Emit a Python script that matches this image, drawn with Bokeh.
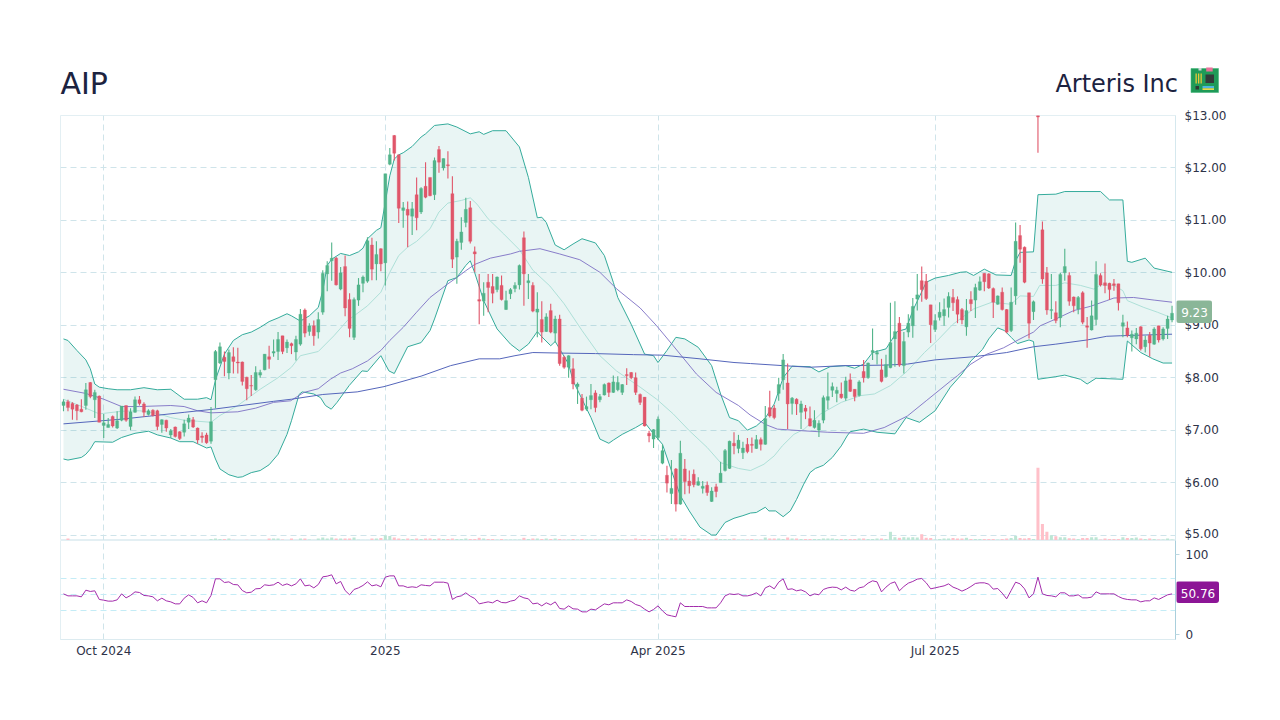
from bokeh.plotting import figure
from bokeh.layouts import column
from bokeh.models import Range1d, LinearAxis, FixedTicker, NumeralTickFormatter, Label, ColumnDataSource
from bokeh.core.properties import value
from bokeh.embed import file_html
from bokeh.resources import INLINE

symbol = "AIP"
company = "Arteris Inc"
tick_index = [9, 72, 133, 195]
tick_labels = ["Oct 2024", "2025", "Apr 2025", "Jul 2025"]

open_p = [7.47,7.54,7.51,7.48,7.40,7.47,7.91,7.58,7.65,7.09,
7.05,7.26,7.04,7.19,7.47,7.07,7.34,7.58,7.50,7.30,
7.38,7.37,7.11,7.19,6.91,7.06,6.97,6.96,7.15,7.20,
7.04,6.89,6.91,6.79,7.96,8.28,8.39,8.09,8.40,8.30,
8.30,8.01,7.85,7.77,8.05,8.15,8.40,8.47,8.50,8.80,
8.57,8.65,8.49,8.64,9.29,8.88,8.99,8.87,9.25,9.98,
10.23,10.28,9.69,10.12,9.49,8.77,9.48,9.80,9.84,10.53,
10.17,10.46,10.19,12.07,12.62,12.25,11.19,11.21,11.08,11.49,
11.16,11.65,11.82,11.49,12.35,12.00,12.06,11.51,10.30,10.58,
10.96,11.24,10.40,9.49,9.46,9.82,9.74,9.68,9.76,9.30,
9.60,9.70,9.77,10.67,9.81,9.76,9.25,9.11,8.88,9.28,
8.85,9.12,8.39,8.20,8.17,7.83,7.61,7.40,7.58,7.71,
7.58,7.67,7.90,7.72,7.77,7.72,8.06,8.10,8.00,7.68,
7.63,6.94,6.83,6.86,6.37,6.14,5.79,6.26,5.59,6.26,
6.03,6.16,5.95,5.89,5.95,5.64,5.92,6.00,6.23,6.27,
6.75,6.65,6.57,6.73,6.73,6.65,6.82,6.73,7.43,7.42,
7.70,7.96,7.90,7.51,7.59,7.34,7.42,7.22,7.05,7.00,
7.19,7.57,7.76,7.70,7.69,7.61,7.96,7.78,7.66,8.12,
8.00,8.48,8.45,8.15,8.02,8.19,8.74,9.04,8.23,8.87,
8.99,9.50,9.85,9.84,9.39,8.92,9.15,9.18,9.34,9.53,
9.49,9.30,8.97,9.49,9.48,9.67,9.99,9.98,9.70,9.40,
9.63,9.30,8.90,9.56,10.71,10.49,9.62,9.26,13.00,10.82,
10.00,9.28,9.24,9.14,10.00,9.95,9.54,9.31,9.62,8.99,
8.91,9.11,9.95,9.81,9.80,9.79,9.79,8.98,8.95,8.76,
8.74,8.97,8.59,8.81,8.64,8.99,8.74,8.94,9.10]

close_p = [7.54,7.43,7.40,7.37,7.35,7.77,7.64,7.72,7.15,7.14,
7.11,7.08,7.18,7.46,7.19,7.35,7.58,7.51,7.34,7.37,
7.28,7.07,7.20,7.04,6.99,6.88,6.84,7.12,7.23,7.06,
6.81,6.86,6.76,7.16,8.50,8.59,8.31,8.48,8.31,8.28,
7.93,7.79,7.84,8.10,8.10,8.45,8.35,8.50,8.73,8.50,
8.68,8.61,8.73,9.21,8.85,8.99,8.80,9.11,9.99,10.14,
10.28,9.77,10.00,9.33,8.94,9.49,9.77,9.92,10.61,10.07,
10.35,10.17,11.89,12.25,12.28,11.23,11.24,11.10,11.22,11.05,
11.61,11.44,11.47,12.14,12.11,12.18,12.04,10.26,10.60,10.78,
11.21,10.60,10.36,9.46,9.61,9.72,9.61,9.92,9.49,9.47,
9.68,9.76,10.14,9.98,9.85,9.27,9.31,8.87,9.16,8.87,
9.12,8.27,8.20,8.42,7.88,7.88,7.38,7.45,7.66,7.43,
7.64,7.87,7.72,7.92,7.91,7.87,8.04,8.00,7.72,7.53,
7.08,6.89,7.01,7.21,6.61,5.99,5.89,5.59,6.56,6.02,
5.94,5.96,6.02,5.93,5.81,5.84,5.83,6.18,6.61,6.79,
6.70,6.81,6.66,6.59,6.71,6.82,6.73,7.22,7.27,7.24,
7.87,8.34,7.50,7.61,7.50,7.50,7.36,7.08,7.19,7.13,
7.62,7.64,7.83,7.76,7.62,7.94,7.74,7.64,7.92,8.00,
8.28,8.52,8.48,7.93,8.25,8.67,8.88,8.24,8.69,9.04,
9.36,9.58,9.68,9.51,9.01,9.09,9.25,9.30,9.55,9.43,
9.21,9.10,9.28,9.41,9.72,9.83,9.83,9.71,9.44,9.56,
9.30,8.87,9.44,10.60,10.45,9.82,9.04,9.45,12.97,9.88,
9.29,9.30,9.09,9.97,10.12,9.46,9.37,9.53,9.06,8.96,
9.18,9.97,9.77,9.76,9.68,9.76,9.43,9.05,8.81,8.83,
8.85,8.55,8.72,8.66,8.93,8.72,8.93,9.12,9.23]

high_p = [7.59,7.58,7.53,7.50,7.59,7.90,7.92,7.77,7.66,7.31,
7.23,7.28,7.36,7.46,7.47,7.42,7.64,7.65,7.53,7.40,
7.40,7.39,7.21,7.20,7.02,7.07,6.98,7.20,7.30,7.25,
7.05,6.96,6.95,7.44,8.53,8.67,8.50,8.54,8.58,8.57,
8.31,8.02,8.05,8.22,8.15,8.45,8.61,8.73,8.87,8.80,
8.73,8.67,8.80,9.31,9.32,9.04,9.09,9.25,10.05,10.22,
10.58,10.30,10.11,10.33,9.61,9.53,9.90,9.95,10.68,10.67,
10.60,10.47,11.89,12.38,12.63,12.25,11.35,11.36,11.35,11.82,
11.63,12.11,11.82,12.20,12.42,12.18,12.32,11.84,10.65,11.06,
11.43,11.37,10.50,9.98,9.82,9.98,9.98,9.93,9.95,9.66,
9.71,9.82,10.16,10.79,9.98,9.82,9.63,9.46,9.23,9.41,
9.18,9.20,8.42,8.43,8.37,7.91,7.69,7.64,7.88,7.76,
7.69,7.89,7.91,8.04,8.03,7.88,8.18,8.11,8.10,7.70,
7.63,6.99,7.02,7.26,6.73,6.32,6.43,6.28,6.80,6.45,
6.23,6.25,6.10,6.03,6.02,5.91,5.98,6.40,6.64,6.80,
6.96,6.91,6.78,6.85,6.86,6.91,6.86,7.46,7.75,7.48,
8.00,8.45,8.27,7.63,7.61,7.56,7.48,7.45,7.38,7.19,
7.66,8.10,7.91,7.83,7.91,8.02,8.08,7.78,7.95,8.34,
8.29,8.94,8.53,8.36,8.44,9.43,9.46,9.16,8.87,9.21,
9.52,9.98,10.12,9.98,9.39,9.21,9.44,9.51,9.63,9.69,
9.55,9.33,9.50,9.65,9.79,9.93,9.99,9.99,9.72,9.57,
9.72,9.31,9.72,10.96,10.91,10.50,9.62,9.47,13.00,10.98,
10.11,9.98,9.46,10.00,10.46,10.01,9.55,9.56,9.65,9.16,
9.47,10.22,9.99,10.18,9.81,9.88,9.79,9.20,9.07,8.90,
8.95,8.98,8.80,8.87,8.96,8.99,8.96,9.18,9.37]

low_p = [7.36,7.36,7.20,7.19,7.34,7.39,7.61,7.23,7.15,6.85,
7.05,7.05,7.02,7.17,7.16,7.00,7.33,7.47,7.25,7.28,
7.26,7.00,6.95,6.97,6.85,6.86,6.81,6.88,7.02,7.04,
6.74,6.76,6.74,6.74,7.42,8.26,8.03,7.97,8.08,8.08,
7.85,7.57,7.65,7.75,8.00,8.14,8.17,8.40,8.34,8.45,
8.47,8.45,8.33,8.61,8.77,8.80,8.61,8.75,9.20,9.65,
9.85,9.76,9.67,9.17,8.77,8.72,9.37,9.63,9.81,9.86,
9.86,10.03,9.76,12.05,12.14,10.95,10.86,10.49,10.72,10.81,
11.12,11.42,11.46,11.39,11.91,11.95,11.80,10.09,9.79,10.44,
10.87,10.56,10.01,9.02,9.18,9.25,9.42,9.63,9.47,9.29,
9.50,9.63,9.68,9.37,9.50,9.25,8.77,8.67,8.87,8.85,
8.67,8.23,8.17,8.00,7.78,7.50,7.36,7.37,7.40,7.34,
7.53,7.66,7.63,7.71,7.74,7.67,7.86,7.97,7.67,7.48,
7.07,6.77,6.66,6.81,6.35,5.81,5.59,5.45,5.58,5.78,
5.79,5.91,5.94,5.79,5.75,5.63,5.72,6.00,6.21,6.26,
6.54,6.56,6.45,6.56,6.57,6.64,6.61,6.72,7.24,7.21,
7.56,7.77,7.02,7.30,7.29,7.02,7.21,7.07,7.03,6.87,
7.13,7.40,7.63,7.53,7.60,7.56,7.73,7.55,7.64,7.91,
7.98,8.34,8.25,7.91,8.00,8.18,8.21,8.21,8.08,8.77,
8.76,9.28,9.45,9.48,8.66,8.87,9.09,8.99,9.15,9.27,
9.04,9.02,8.80,9.27,9.14,9.66,9.65,9.69,9.14,9.39,
9.28,8.85,8.87,9.39,10.19,9.80,8.75,9.10,12.29,9.79,
9.20,9.12,9.04,8.96,9.85,9.37,9.25,9.21,9.02,8.57,
8.90,9.00,9.74,9.61,9.48,9.66,9.28,8.77,8.77,8.50,
8.64,8.52,8.48,8.40,8.63,8.67,8.71,8.74,9.06]

volume_m = [.05,.2,.05,.05,.04,.06,.05,.05,.06,.05,
.04,.04,.05,.05,.05,.04,.04,.05,.04,.05,
.04,.05,.04,.04,.05,.04,.04,.05,.05,.04,
.05,.04,.05,.15,.2,.15,.15,.2,.08,.05,
.05,.08,.04,.05,.06,.05,.2,.2,.2,.1,
.05,.2,.06,.2,.2,.1,.06,.2,.3,.2,
.3,.2,.2,.2,.2,.3,.08,.06,.06,.2,
.2,.25,.5,.45,.3,.2,.15,.2,.15,.2,
.15,.2,.2,.15,.2,.15,.15,.2,.15,.15,
.2,.15,.15,.27,.2,.15,.15,.1,.15,.1,
.1,.1,.1,.27,.15,.2,.2,.15,.2,.15,
.2,.15,.1,.1,.15,.1,.15,.1,.1,.1,
.1,.1,.1,.1,.15,.1,.1,.1,.2,.15,
.15,.15,.15,.15,.15,.2,.2,.2,.2,.2,
.15,.15,.2,.1,.1,.1,.2,.15,.15,.15,
.2,.1,.1,.1,.15,.1,.1,.3,.2,.2,
.2,.15,.3,.2,.2,.15,.15,.15,.15,.15,
.2,.2,.2,.15,.15,.15,.15,.15,.2,.2,
.15,.15,.2,.2,.15,.87,.33,.27,.33,.3,
.33,.3,.63,.27,.25,.1,.15,.2,.2,.25,
.2,.2,.27,.15,.15,.15,.15,.15,.15,.1,
.15,.2,.25,.45,.25,.2,.25,.15,7.27,1.66,
.87,.53,.43,.33,.33,.23,.2,.15,.25,.25,
.33,.33,.1,.2,.15,.15,.15,.33,.25,.25,
.3,.2,.15,.2,.15,.1,.1,.2,.1]

rsi = [50.8,48.3,48.3,48.3,47.1,55.4,53.8,54.6,43.8,42.9,
41.7,41.7,43.3,50.8,45.8,48.8,53.3,52.5,48.8,48.3,
47.1,42.1,45.4,42.1,40.8,38.3,38.3,45.4,49.6,46.3,
39.6,42.1,39.6,48.8,69.6,69.6,65.0,65.8,62.5,62.1,
55.0,52.1,52.9,57.1,57.5,62.1,61.3,62.1,65.4,61.3,
63.3,60.8,63.3,69.6,60.8,61.7,58.3,62.5,72.1,72.9,
74.6,63.3,66.3,55.0,49.6,56.3,58.3,61.3,65.8,60.8,
62.1,59.6,71.7,73.3,73.3,60.8,60.8,58.8,59.6,58.8,
62.1,61.3,60.8,65.4,65.4,65.4,64.2,43.8,47.1,48.3,
52.1,47.9,45.0,38.3,39.6,40.8,39.6,42.9,40.0,39.6,
41.7,42.9,48.3,45.8,44.6,38.3,39.2,35.8,39.6,37.1,
40.8,32.5,31.7,35.8,32.1,31.7,28.3,28.3,31.7,30.8,
34.6,38.3,37.1,39.6,39.6,39.6,43.3,41.3,37.5,35.8,
31.7,28.3,31.3,35.8,29.6,24.6,23.3,22.1,39.6,35.0,
35.0,35.0,35.0,35.0,33.3,33.3,33.3,39.6,48.3,50.8,
50.0,50.8,48.3,48.3,49.6,52.1,48.3,58.3,60.8,57.1,
65.4,69.6,56.3,57.1,54.6,55.8,53.3,48.3,50.8,49.6,
56.3,58.3,59.2,58.8,55.8,59.2,55.4,54.2,58.3,59.6,
64.2,67.1,65.8,53.3,59.2,63.8,65.8,54.6,60.0,64.2,
66.3,69.2,70.0,64.6,57.1,58.3,59.6,60.8,63.3,59.2,
57.1,54.2,56.7,60.0,63.8,64.6,64.6,62.9,56.7,57.5,
51.7,44.6,55.0,65.4,63.3,57.1,45.8,50.8,71.7,50.8,
48.8,48.3,47.1,52.1,52.1,48.3,48.3,49.6,45.8,45.8,
46.7,53.3,50.8,50.8,50.8,50.8,47.5,45.0,43.8,43.3,
43.3,40.8,42.1,42.1,45.8,43.8,46.7,49.6,50.76]

upper_i = [0,1,3,5,6,7,8,10,12,15,18,21,24,27,30,32,33,34,36,38,40,42,44,46,48,50,51,53,55,57,58,59,60,62,64,66,67,68,70,71,72,73,74,75,76,78,80,81,83,86,88,91,93,94,96,99,102,104,106,107,108,110,112,114,116,119,121,123,124,127,130,132,133,135,137,139,142,145,147,149,151,153,155,157,159,161,163,167,169,171.5,175,177,179,181,184,186.5,188.5,190,193,195,198,200.6,202,203.6,206,208.6,212,213,214,217,218,222,224,232,234,237,238,239,242,244,248]
upper_band = [8.74,8.71,8.52,8.34,8.17,7.88,7.82,7.79,7.77,7.77,7.81,7.77,7.78,7.59,7.59,7.62,7.58,7.96,8.45,8.71,8.82,8.87,8.96,9.07,9.14,9.22,9.18,9.08,9.18,9.34,9.66,10.14,10.26,10.37,10.33,10.40,10.47,10.65,10.81,10.86,11.35,11.85,12.17,12.25,12.29,12.41,12.59,12.65,12.81,12.84,12.78,12.65,12.69,12.64,12.71,12.71,12.40,11.82,11.05,11.06,10.96,10.53,10.44,10.55,10.65,10.57,10.33,9.82,9.53,9.02,8.45,8.42,8.29,8.52,8.77,8.74,8.58,8.23,7.69,7.24,7.18,7.00,7.08,7.23,7.50,8.00,8.22,8.21,8.11,8.21,8.23,8.18,8.26,8.48,8.55,8.88,8.93,9.28,9.82,9.90,9.95,10.01,10.02,9.95,10.07,9.96,9.95,10.23,10.39,10.40,11.49,11.50,11.55,11.55,11.39,11.39,10.22,10.20,10.28,10.09,10.01]

lower_i = [0,1,4,5,6,7,11,13,16,19,21,24,26,29,32,33,34,35,37,39,40,42,44,46,48,50,51,52.7,53.4,56,57.5,58.6,59.9,61.2,63.9,66.8,68,71,72.8,74,75.4,77,80,82,83,86,88,90,91,92,94,97,100,102,104,106,107,109,110,111,113,114,116,118,120,122,123,125,128,130,132,134,136,138,140,142.4,145,146,148,150,152,153.7,155,157,157.8,159.3,161,162.6,164,165.6,167,168.2,170,172,174,175.3,176,179,182,186,188.5,191.5,195,198.4,201,203,205.6,207,209,210.5,212,213.4,216,217,218,222,224,227.5,229,231,237,238,241,243.7,246,248]
lower_band = [6.45,6.43,6.48,6.54,6.64,6.78,6.77,6.86,6.94,6.98,6.91,6.85,6.78,6.78,6.66,6.68,6.45,6.26,6.15,6.10,6.11,6.19,6.23,6.34,6.54,6.92,7.18,7.68,7.73,7.69,7.62,7.47,7.40,7.53,7.85,8.13,8.12,8.42,8.13,8.08,8.32,8.59,8.67,8.90,9.12,9.85,9.91,10.14,10.23,10.00,9.47,8.93,8.64,8.51,8.64,8.88,8.78,8.61,8.69,8.55,8.26,7.94,7.59,7.24,6.83,6.75,6.81,6.92,7.05,7.15,6.93,6.73,6.23,5.75,5.46,5.15,5.00,5.00,5.24,5.32,5.37,5.42,5.43,5.53,5.46,5.46,5.35,5.46,5.68,5.97,6.19,6.27,6.33,6.48,6.70,6.89,6.97,7.02,6.96,6.93,7.24,7.15,7.37,7.82,8.07,8.32,8.54,8.74,8.95,8.90,8.77,8.65,8.72,8.69,7.97,8.02,8.05,7.97,7.88,7.99,7.97,8.70,8.48,8.36,8.28,8.28]

middle_i = [0,5,8,13,17,21,24,27,30,33,35,39,44,48,51,53,57,60.5,63.5,65,68,71,73,75,77,79,82,84,86,89,91,92.5,95,98.5,102,105,108.8,112,116,120,123.7,129,132.7,136.4,140,144,147,151,153.7,156.7,159,160.8,163.4,165.7,169.4,174,178.4,181.4,185,188.8,192.6,195.5,199,203.6,207.7,212,214,217,218.4,222,224,227.5,230.5,232,235,237,238,241.7,244.7,248]
middle_band = [7.59,7.42,7.31,7.36,7.37,7.32,7.24,7.19,7.17,7.15,7.28,7.47,7.78,8.00,8.20,8.42,8.50,8.80,9.09,9.18,9.37,9.63,10.01,10.33,10.49,10.60,10.84,11.16,11.33,11.38,11.43,11.31,11.03,10.74,10.44,10.05,9.75,9.41,8.90,8.42,8.13,7.82,7.59,7.31,6.99,6.67,6.38,6.27,6.23,6.35,6.51,6.70,6.92,7.02,7.31,7.53,7.66,7.69,7.85,8.13,8.48,8.71,9.02,9.31,9.44,9.40,9.56,9.55,9.76,9.76,9.81,9.76,9.69,9.77,9.76,9.66,9.47,9.34,9.25,9.14]

sma50_i = [0,5,9,13,17,24,27,30,33,39,43,47,50.8,53.8,57,59.7,62,64.6,68,71,73,76,79,82,86,88,90,92,95.5,100,102,106.6,111,115.5,120,123.8,129,132.7,136.4,141.6,146,151,153.6,157,159.7,165,171,179,183.6,188.8,193,198.5,200,203,206.6,210.3,214,217,218.5,222,226,229.7,233.4,235,239.4,244,248]
sma50 = [7.78,7.70,7.59,7.45,7.45,7.47,7.45,7.37,7.33,7.35,7.42,7.53,7.56,7.72,7.79,7.97,8.09,8.17,8.32,8.52,8.71,8.96,9.25,9.53,9.79,9.91,10.04,10.16,10.28,10.36,10.41,10.46,10.36,10.25,10.01,9.69,9.33,8.99,8.61,8.07,7.72,7.47,7.29,7.11,7.02,6.99,6.96,6.94,7.05,7.27,7.56,7.94,8.04,8.26,8.45,8.57,8.74,8.87,8.99,9.12,9.28,9.36,9.47,9.52,9.53,9.48,9.44]

sma200_i = [0,13,27,33.6,47,51,58,65.7,71.7,80,86.6,93,97.6,101,105,111,119,127.5,134,142.4,150,153.7,161,167,174.6,183.6,188.8,195,203.6,211,217,222,229,233.4,236.4,248]
sma200 = [7.12,7.21,7.34,7.40,7.55,7.59,7.68,7.73,7.83,8.03,8.23,8.36,8.36,8.42,8.48,8.47,8.46,8.44,8.43,8.36,8.29,8.27,8.23,8.20,8.23,8.24,8.26,8.34,8.40,8.48,8.59,8.64,8.72,8.79,8.80,8.83]

GREEN, RED = "#52b48a", "#e0566a"
V_GREEN, V_RED = "#bde6d4", "#ffc0c9"
GRID = "#cfe4ea"
INK = "#1c2340"
TICK = "#2e3348"
FONT = "DejaVu Sans"
BAND = "#34ab9b"

idx = list(range(len(close_p)))
up = [c >= o for o, c in zip(open_p, close_p)]
src = ColumnDataSource(dict(
    x=idx, o=open_p, c=close_p, h=high_p, l=low_p, v=volume_m,
    color=[GREEN if u else RED for u in up],
    vcolor=[V_GREEN if u else V_RED for u in up],
))

x0, x1 = -0.67, 248.77

# header: its own frame, laid out in page pixels
head = figure(width=1272, height=105, x_range=Range1d(0, 1272), y_range=Range1d(105, 0),
              toolbar_location=None, output_backend="svg", min_border=0, outline_line_color=None)
head.frame_align = False
head.axis.visible = False
head.grid.visible = False
head.text([60], [83], text=[symbol], text_font=value(FONT), text_font_size="30px", text_color=INK,
          text_baseline="middle")
head.text([1177.5], [83], text=[company], text_font=value(FONT), text_font_size="24px", text_color=INK,
          text_align="right", text_baseline="middle")
# circuit-board icon
head.quad(left=[1190.5], right=[1218], top=[68], bottom=[92], fill_color="#1f9a58", line_color="#48b97c", line_width=0.6)
head.quad(left=[1205.7], right=[1212.2], top=[67], bottom=[71], fill_color="#e8729a", line_color=None)
head.quad(left=[1198], right=[1201], top=[67.5], bottom=[70], fill_color="#cfd8d8", line_color=None)
head.quad(left=[1195, 1197.5, 1200], right=[1196.3, 1198.8, 1201.3], top=[73, 73, 73], bottom=[83, 83, 83], fill_color="#e8c838", line_color=None)
head.quad(left=[1205], right=[1213.5], top=[74], bottom=[82.5], fill_color="#333a3a", line_color=None)
head.quad(left=[1202], right=[1213.5], top=[85.5], bottom=[87.5], fill_color="#4fb6e0", line_color=None)
head.quad(left=[1202], right=[1213.5], top=[87.8], bottom=[89.5], fill_color="#e8d850", line_color=None)
head.quad(left=[1195], right=[1198.5], top=[85.5], bottom=[89], fill_color="#2e3a34", line_color=None)

# price panel
p = figure(width=1272, height=435, x_range=Range1d(x0, x1), y_range=Range1d(4.896, 13.0),
           toolbar_location=None, output_backend="svg", y_axis_location="right",
           min_border_left=60, min_border_right=97, min_border_top=10, min_border_bottom=0,
           background_fill_color="white", outline_line_color="#e3eff3")
p.xaxis.visible = False
p.extra_y_ranges = {"vol": Range1d(0, 42.5)}
yax = p.yaxis[0]
yax.ticker = FixedTicker(ticks=[5, 6, 7, 8, 9, 10, 11, 12, 13])
yax.formatter = NumeralTickFormatter(format="$0.00")
yax.major_label_text_font = FONT
yax.major_label_text_font_size = "12px"
yax.major_label_text_color = TICK
yax.major_tick_line_color = None
yax.major_tick_out = 0
yax.major_tick_in = 0
yax.minor_tick_line_color = None
yax.axis_line_color = "#d5e8ee"
yax.major_label_standoff = 9
p.ygrid.ticker = FixedTicker(ticks=[5, 6, 7, 8, 9, 10, 11, 12, 13])
p.xgrid.ticker = FixedTicker(ticks=tick_index)
p.grid.grid_line_color = GRID
p.grid.grid_line_dash = "6 4"
p.grid.grid_line_width = 1

p.vbar(x="x", width=0.68, top="v", bottom=0, source=src, fill_color="vcolor", line_color=None, y_range_name="vol")
p.patch(upper_i + lower_i[::-1], upper_band + lower_band[::-1], fill_color="#2a9d8f", fill_alpha=0.1, line_color=None)
p.line(upper_i, upper_band, line_color=BAND, line_width=1)
p.line(lower_i, lower_band, line_color=BAND, line_width=1)
p.line(middle_i, middle_band, line_color="#aee0d8", line_width=1)
p.line(sma50_i, sma50, line_color="#7d6fc4", line_width=0.9)
p.line(sma200_i, sma200, line_color="#5566bb", line_width=1)
p.segment(x0="x", x1="x", y0="l", y1="h", source=src, line_color="color", line_width=1.1)
p.vbar(x="x", width=0.68, top="o", bottom="c", source=src, fill_color="color", line_color="color", line_width=0.3)

# RSI panel
r = figure(width=1272, height=159, x_range=p.x_range, y_range=Range1d(-6.25, 117.5),
           toolbar_location=None, output_backend="svg", y_axis_location="right",
           min_border_left=60, min_border_right=97, min_border_top=0, min_border_bottom=60,
           background_fill_color="white", outline_line_color="#e3eff3")
ry = r.yaxis[0]
ry.ticker = FixedTicker(ticks=[0, 100])
ry.major_label_text_font = FONT
ry.major_label_text_font_size = "12px"
ry.major_label_text_color = TICK
ry.major_tick_line_color = "#bcd8e2"
ry.major_tick_in = 0
ry.major_tick_out = 4
ry.minor_tick_line_color = None
ry.axis_line_color = "#a9cfdc"
ry.major_label_standoff = 6
rx = r.xaxis[0]
rx.ticker = FixedTicker(ticks=tick_index)
rx.major_label_overrides = dict(zip(tick_index, tick_labels))
rx.major_label_text_font = FONT
rx.major_label_text_font_size = "12px"
rx.major_label_text_color = TICK
rx.major_tick_line_color = None
rx.major_tick_out = 0
rx.major_tick_in = 0
rx.minor_tick_line_color = None
rx.axis_line_color = "#dcebf0"
rx.major_label_standoff = 4
r.xgrid.ticker = FixedTicker(ticks=tick_index)
r.xgrid.grid_line_color = GRID
r.xgrid.grid_line_dash = "6 4"
r.ygrid.ticker = FixedTicker(ticks=[30, 50, 70])
r.ygrid.grid_line_color = "#c4ecf6"
r.ygrid.grid_line_dash = "6 4"
r.line(idx, rsi, line_color="#a32cab", line_width=1)

def price_tag(text, left, top, w, h, color):
    t = figure(width=w, height=h, x_range=Range1d(0, w), y_range=Range1d(h, 0), toolbar_location=None,
               output_backend="svg", min_border=0, outline_line_color=None, background_fill_color=color,
               border_fill_color=color,
               styles={"position": "absolute", "left": f"{left}px", "top": f"{top}px",
                       "border-radius": "3px", "overflow": "hidden", "z-index": "10"})
    t.axis.visible = False
    t.grid.visible = False
    t.text([w / 2], [h / 2 + 0.5], text=[text], text_font=value(FONT), text_font_size="12px", text_color="white",
           text_align="center", text_baseline="middle")
    return t

tag_price = price_tag(f"{close_p[-1]:.2f}", 1176, 300, 36, 23, "#8ab698")
tag_rsi = price_tag(f"{rsi[-1]:.2f}", 1176, 581, 43, 22, "#8c1596")

page = column(head, p, r, spacing=0)
open("out.html", "w").write(file_html([page, tag_price, tag_rsi], INLINE))
